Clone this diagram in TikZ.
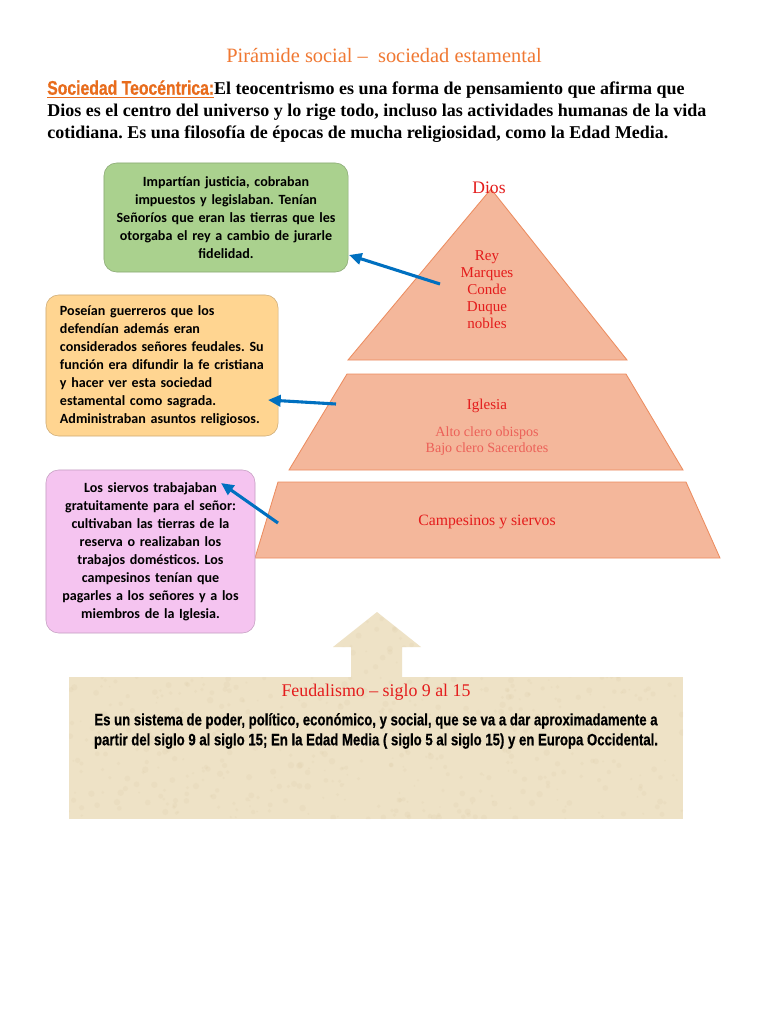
\documentclass[tikz,border=0pt]{standalone}
\usepackage{fontspec}
\setmainfont{Liberation Serif}
\newfontfamily\cajafont{Carlito}
\newfontfamily\impactfont[FakeStretch=0.8, BoldFeatures={FakeBold=0.6}]{Liberation Sans}
\usetikzlibrary{arrows.meta, positioning}

\definecolor{tituloc}{RGB}{240,120,50}
\definecolor{naranja}{RGB}{232,108,28}
\definecolor{verdecaja}{RGB}{170,209,142}
\definecolor{naranjacaja}{RGB}{255,213,145}
\definecolor{rosacaja}{RGB}{245,196,240}
\definecolor{capafill}{RGB}{244,183,155}
\definecolor{capaborde}{RGB}{236,140,95}
\definecolor{rojo}{RGB}{228,28,28}
\definecolor{rosado}{RGB}{236,96,88}
\definecolor{azul}{RGB}{0,112,192}
\definecolor{pergaminoc}{RGB}{238,226,198}
\definecolor{pergaminom}{RGB}{214,196,156}

\frenchspacing
\begin{document}
\begin{tikzpicture}[
  x=0.025cm, y=-0.025cm,
  caja/.style={rectangle, rounded corners=9pt, draw=#1!80!black, fill=#1,
               inner sep=0pt, font=\cajafont\bfseries\fontsize{10}{12.8}\selectfont},
  capa/.style={draw=capaborde, fill=capafill, line width=0.6pt},
  rojo/.style={text=rojo, font=\fontsize{10.7}{12.1}\selectfont, align=center},
  flecha/.style={draw=azul, line width=2.2pt, -{Triangle[length=9pt,width=8pt]}},
  pergamino/.style={rectangle, fill=pergaminoc, inner sep=0pt},
]
  \fill[white] (0,0) rectangle (768,1024);
  \useasboundingbox (0,0) rectangle (768,1024);

  % ── Title and intro ──
  \node[text=tituloc, font=\fontsize{14.5}{17}\selectfont] (titulo) at (384,56)
    {Pirámide social –\ \ sociedad estamental};
  \node[anchor=north west, align=left, inner sep=0pt,
        font=\bfseries\fontsize{12.8}{15.6}\selectfont] (parrafo) at (47,80)
    {{\impactfont\fontsize{14}{15.6}\selectfont\color{naranja}\underline{Sociedad Teocéntrica:}}El teocentrismo es una forma de pensamiento que afirma que\\
     Dios es el centro del universo y lo rige todo, incluso las actividades humanas de la vida\\
     cotidiana. Es una filosofía de épocas de mucha religiosidad, como la Edad Media.};

  % ── Pyramid ──
  \draw[capa] (491,189) -- (627,360) -- (348,360) -- cycle;
  \draw[capa] (347,374) -- (626,374) -- (683,470) -- (289,470) -- cycle;
  \draw[capa] (278,482) -- (686,482) -- (720,558) -- (255,558) -- cycle;

  \node[rojo, font=\fontsize{12.5}{14}\selectfont] (dios) at (489,188) {Dios};
  \node[rojo] (nobleza) at (487,290) {Rey\\Marques\\Conde\\Duque\\nobles};
  \node[rojo] (iglesia) at (487,406) {Iglesia};
  \node[rojo, text=rosado, font=\fontsize{10}{11.4}\selectfont] (clero) at (487,441)
    {Alto clero obispos\\Bajo clero Sacerdotes};
  \node[rojo, font=\fontsize{11.2}{13}\selectfont] (campesinos) at (487,522) {Campesinos y siervos};

  % ── Boxes ──
  \node[caja=verdecaja, minimum width=6.1cm, minimum height=2.725cm,
        align=center, text width=5.9cm] (verde) at (226,217.5)
    {Impartían justicia, cobraban\\impuestos y legislaban. Tenían\\Señoríos que eran las tierras que les\\otorgaba el rey a cambio de jurarle\\fidelidad.};
  \node[caja=naranjacaja, minimum width=5.8cm, minimum height=3.525cm,
        align=left, text width=5.1cm] (clerocaja) at (162,365.5)
    {Poseían guerreros que los\\defendían además eran\\considerados señores feudales. Su\\función era difundir la fe cristiana\\y hacer ver esta sociedad\\estamental como sagrada.\\Administraban asuntos religiosos.};
  \node[caja=rosacaja, minimum width=5.225cm, minimum height=4.075cm,
        align=center, text width=5.1cm] (rosa) at (150.5,551.5)
    {Los siervos trabajaban\\gratuitamente para el señor:\\cultivaban las tierras de la\\reserva o realizaban los\\trabajos domésticos. Los\\campesinos tenían que\\pagarles a los señores y a los\\miembros de la Iglesia.};

  % ── Arrows ──
  \coordinate (desdenobleza) at (440,284);
  \coordinate (averde) at (349,255);
  \coordinate (desdeiglesia) at (336,404);
  \coordinate (anaranja) at (268,400);
  \coordinate (desdecampo) at (278,523);
  \coordinate (arosa) at (221,483);
  \draw[flecha] (desdenobleza) -- (averde);
  \draw[flecha] (desdeiglesia) -- (anaranja);
  \draw[flecha] (desdecampo) -- (arosa);

  % ── Feudalismo ──
  \node[pergamino, minimum width=15.35cm, minimum height=3.55cm] (feudo) at (376,748) {};
  \fill[pergaminoc] (351,678) -- (351,647) -- (333,647) -- (377,612)
    -- (421,647) -- (402,647) -- (402,678) -- cycle;
  \begin{scope}
    \clip (69,677) -- (351,677) -- (351,647) -- (333,647) -- (377,612) -- (421,647)
      -- (402,647) -- (402,677) -- (683,677) -- (683,819) -- (69,819) -- cycle;
    \pgfmathsetseed{7}
    \foreach \i in {1,...,700}{
      \pgfmathsetmacro{\px}{69+614*rnd}
      \pgfmathsetmacro{\py}{612+207*rnd}
      \pgfmathsetmacro{\pr}{0.8+2.5*rnd}
      \fill[pergaminom, opacity=0.14] (\px,\py) circle[radius=\pr];
    }
  \end{scope}
  \node[text=rojo, font=\fontsize{12.7}{14}\selectfont] (feudtit) at (376,692)
    {Feudalismo – siglo 9 al 15};
  \node[font=\impactfont\bfseries\fontsize{11.7}{14.2}\selectfont, align=center] (feudtxt) at (376,731)
    {Es un sistema de poder, político, económico, y social, que se va a dar aproximadamente a\\
     partir del siglo 9 al siglo 15; En la Edad Media ( siglo 5 al siglo 15) y en Europa Occidental.};
\end{tikzpicture}
\end{document}
